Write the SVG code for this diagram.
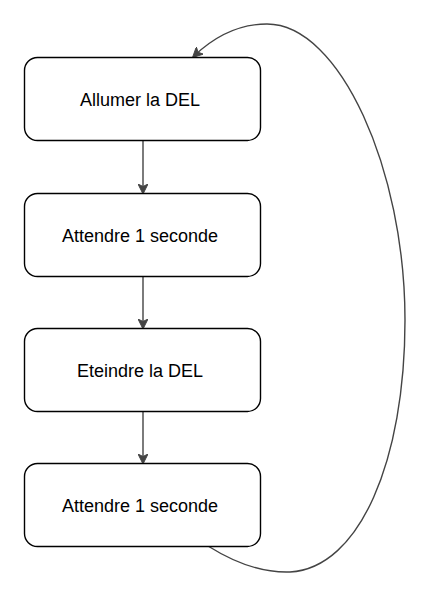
<svg xmlns="http://www.w3.org/2000/svg" width="428" height="598" viewBox="0 0 428 598">
<style>
.box{fill:#fff;stroke:#000;stroke-width:1.4}
.lbl{font-family:"Liberation Sans",Arial,sans-serif;font-size:18px;fill:#000;text-anchor:middle}
.edge{fill:none;stroke:#444;stroke-width:1.4}
</style>
<defs>
<marker id="ah" markerWidth="10" markerHeight="10" refX="8" refY="5" orient="auto" markerUnits="userSpaceOnUse">
<path d="M0,0 L10,5 L0,10 L2.5,5 Z" fill="#444" stroke="#444" stroke-width="1"/>
</marker>
</defs>
<rect width="428" height="598" fill="#fff"/>
<g id="connectors">
<path class="edge" d="M143,141 L143,192" marker-end="url(#ah)"/>
<path class="edge" d="M143,276 L143,327" marker-end="url(#ah)"/>
<path class="edge" d="M143,411 L143,462" marker-end="url(#ah)"/>
<path class="edge" d="M208,546 C235,563 262,573 290,572 C360,568 405,460 405,320 C405,170 340,24 267,24 C240,24 215,36 194,56" marker-end="url(#ah)"/>
</g>
<g id="n1"><rect class="box" x="24.5" y="57.5" width="236" height="83" rx="13"/><text class="lbl" x="140" y="106">Allumer la DEL</text></g>
<g id="n2"><rect class="box" x="24.5" y="193.5" width="236" height="83" rx="13"/><text class="lbl" x="140" y="242">Attendre 1 seconde</text></g>
<g id="n3"><rect class="box" x="24.5" y="328.5" width="236" height="83" rx="13"/><text class="lbl" x="140" y="377">Eteindre la DEL</text></g>
<g id="n4"><rect class="box" x="24.5" y="463.5" width="236" height="83" rx="13"/><text class="lbl" x="140" y="512">Attendre 1 seconde</text></g>
</svg>
